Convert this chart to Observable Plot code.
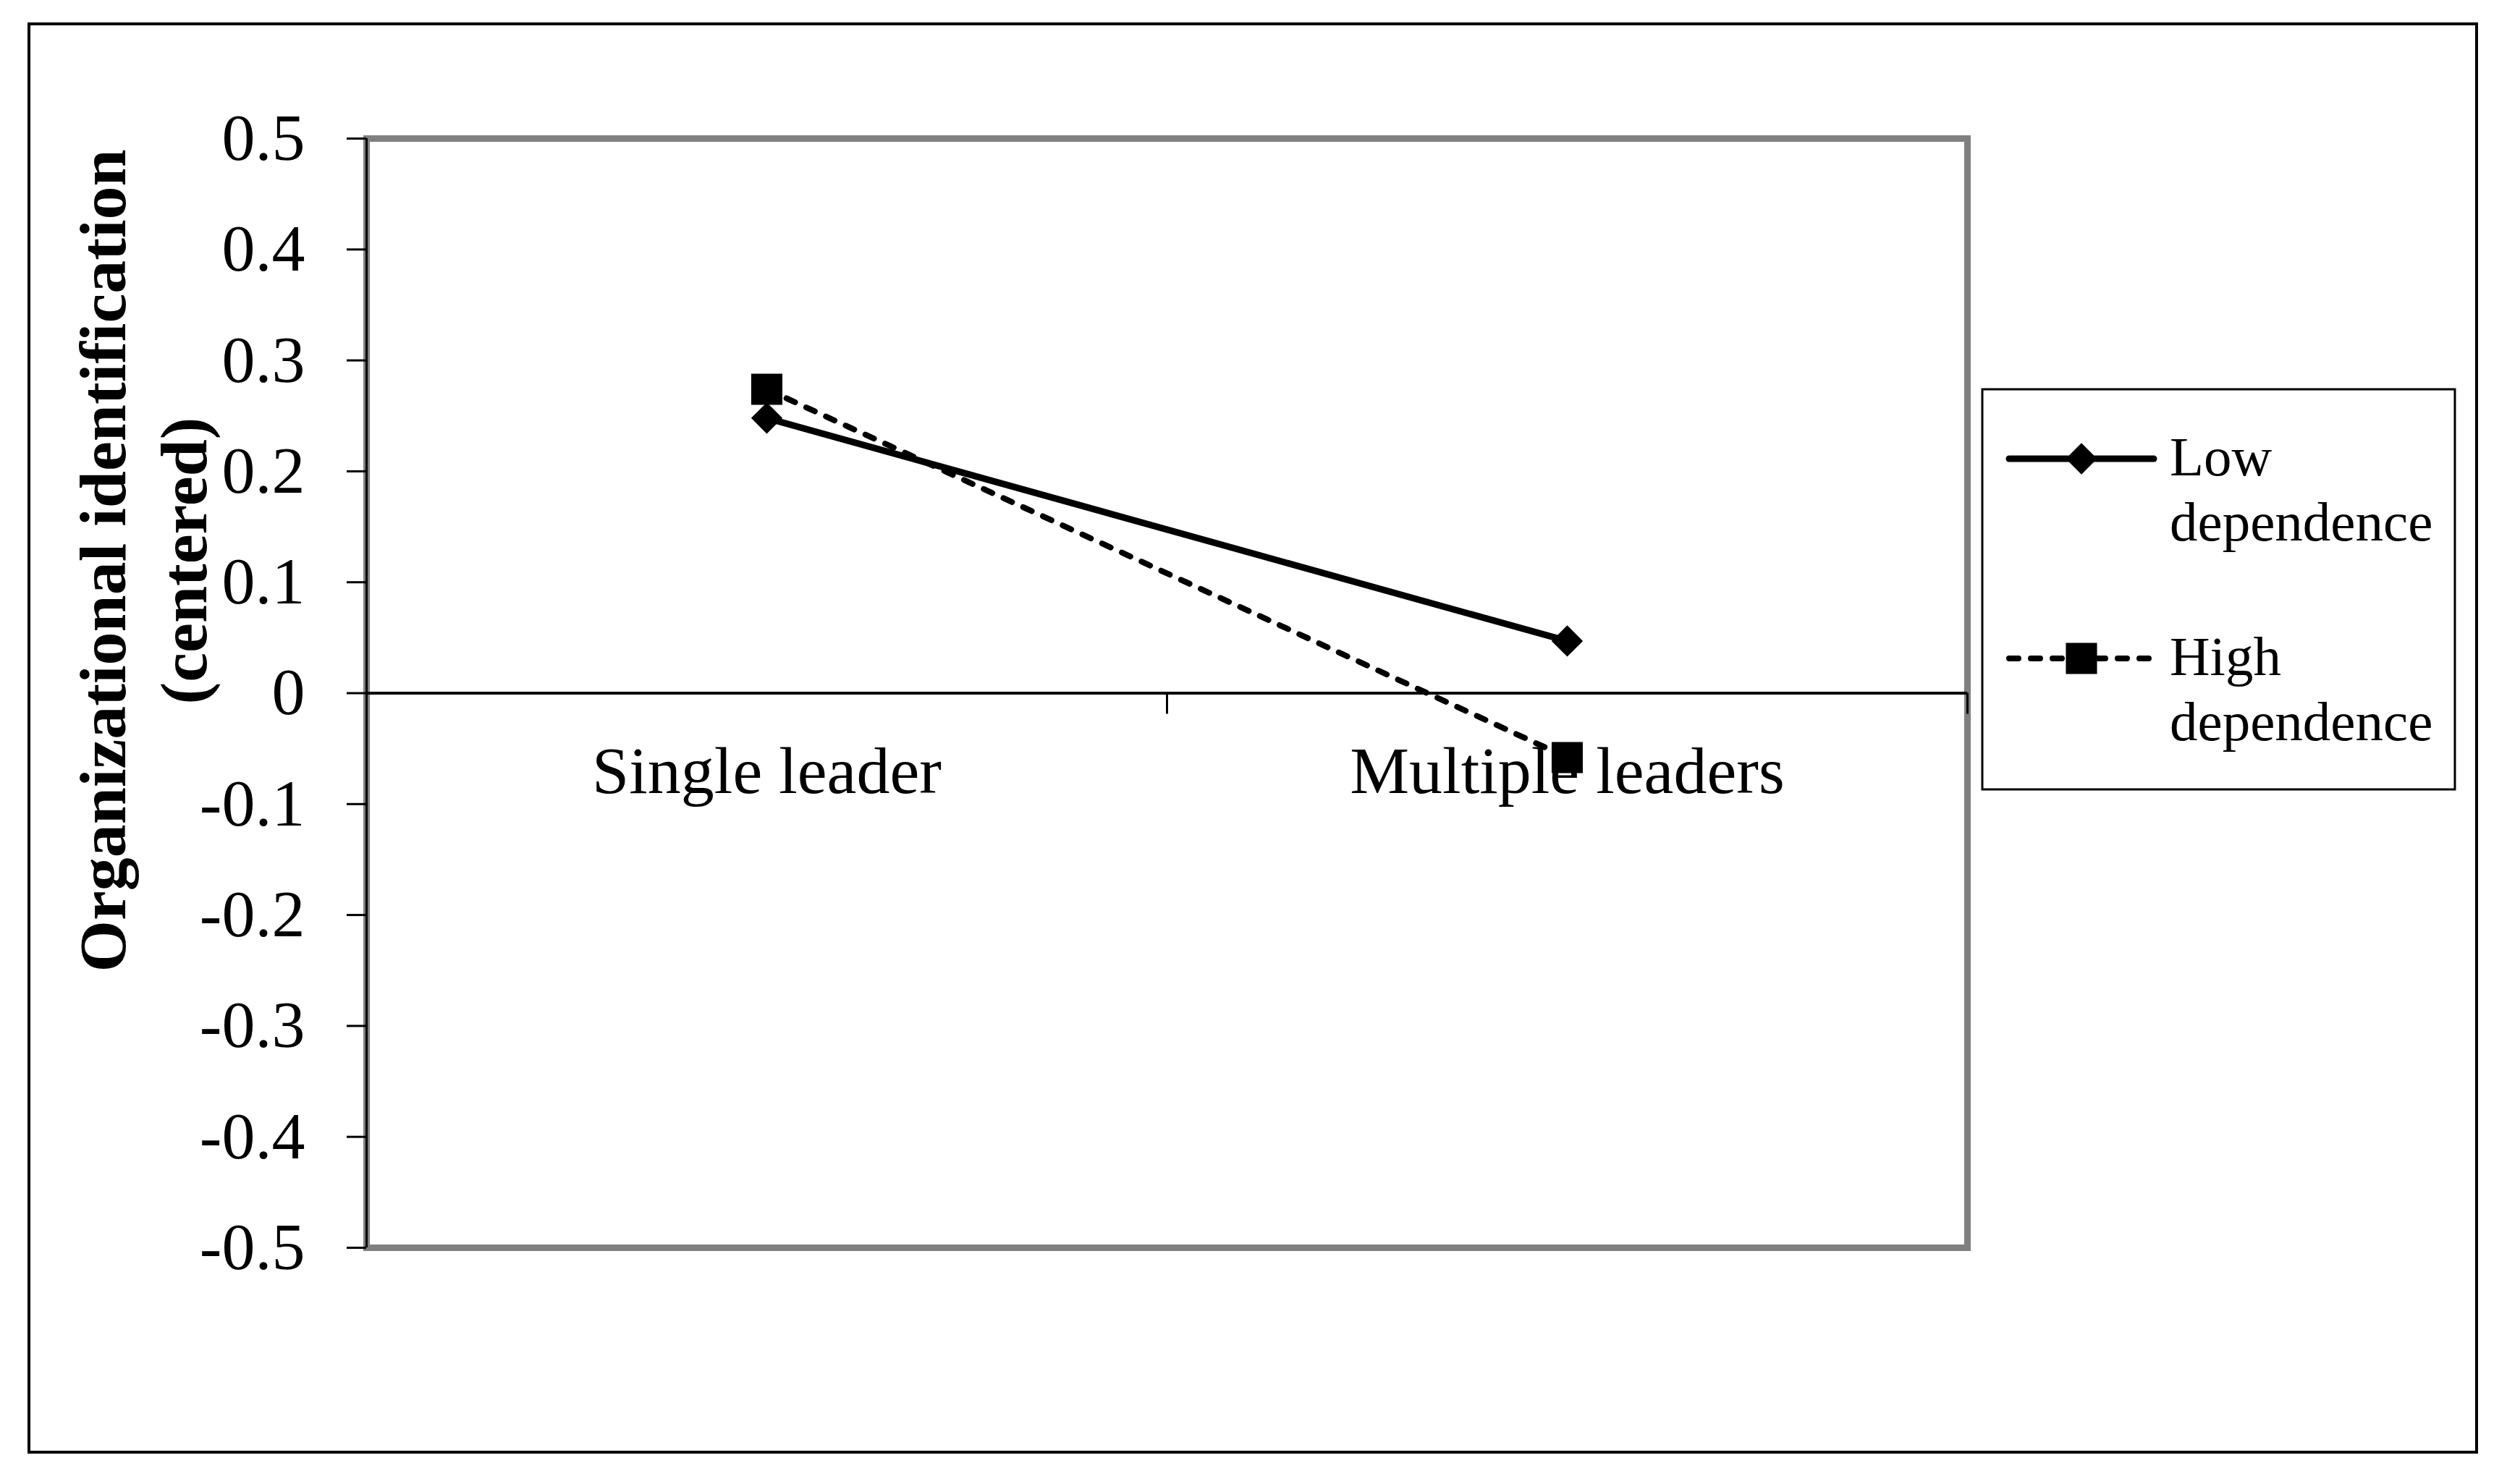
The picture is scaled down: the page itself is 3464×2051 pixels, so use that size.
<!DOCTYPE html>
<html>
<head>
<meta charset="utf-8">
<script src="https://cdn.jsdelivr.net/npm/d3@7"></script>
<script src="https://cdn.jsdelivr.net/npm/@observablehq/plot@0.6"></script>
<style>
  html, body { margin: 0; padding: 0; background: #fff; overflow: hidden; }
  #chart svg { display: block; }
</style>
</head>
<body>
<div id="chart"></div>
<script>
// ---- data ----
const categories = ["Single leader", "Multiple leaders"];
const seriesNames = ["Low dependence", "High dependence"];
const lowDependence = [0.248, 0.047];
const highDependence = [0.274, -0.058];
const yTicks = [-0.5, -0.4, -0.3, -0.2, -0.1, 0, 0.1, 0.2, 0.3, 0.4, 0.5];
const xBoundaries = [0, 1, 2];
const legendLines = [["Low", "dependence"], ["High", "dependence"]];

const rows = [];
categories.forEach((c, i) => {
  rows.push({series: seriesNames[0], category: c, pos: i + 0.5, value: lowDependence[i]});
  rows.push({series: seriesNames[1], category: c, pos: i + 0.5, value: highDependence[i]});
});
const lowRows = rows.filter(d => d.series === seriesNames[0]);
const highRows = rows.filter(d => d.series === seriesNames[1]);

const FONT = "'Liberation Serif', 'Times New Roman', Times, serif";

const svg = Plot.plot({
  width: 3464,
  height: 2051,
  marginLeft: 506,
  marginRight: 746,
  marginTop: 191,
  marginBottom: 327,
  x: {domain: [0, 2], axis: null},
  y: {domain: [-0.5, 0.5], axis: null},
  style: {fontFamily: FONT, fontSize: "92px", background: "#fff", color: "#000"},
  marks: [
    Plot.frame({stroke: "#808080", strokeWidth: 9}),
    Plot.axisY(yTicks, {
      tickSize: 27, tickPadding: 58, strokeWidth: 3, stroke: "#000",
      fill: "#000", fontSize: 92, label: null,
      tickFormat: d => d === 0 ? "0" : d.toFixed(1)
    }),
    Plot.ruleX([0], {stroke: "#000", strokeWidth: 3}),
    Plot.ruleY([0], {stroke: "#000", strokeWidth: 4}),
    Plot.ruleX(xBoundaries, {y1: 0, y2: 0, insetBottom: -29, stroke: "#000", strokeWidth: 3}),
    Plot.text(categories, {
      x: (d, i) => i + 0.5, y: 0, text: d => d, dy: 138,
      lineAnchor: "bottom", fontSize: 92, fill: "#000"
    }),
    Plot.line(lowRows, {x: "pos", y: "value", stroke: "#000", strokeWidth: 9, strokeLinecap: "round"}),
    Plot.line(highRows, {x: "pos", y: "value", stroke: "#000", strokeWidth: 8,
      strokeDasharray: "13,17", strokeLinecap: "round"}),
    Plot.dot(lowRows, {x: "pos", y: "value", symbol: "diamond2", r: 19.5, fill: "#000", stroke: "none"}),
    Plot.dot(highRows, {x: "pos", y: "value", symbol: "square", r: 24.3, fill: "#000", stroke: "none"})
  ]
});

const s = d3.select(svg);

// outer border of the figure
s.append("rect")
  .attr("x", 40).attr("y", 33).attr("width", 3382).attr("height", 1974)
  .attr("fill", "none").attr("stroke", "#000").attr("stroke-width", 4);

// y-axis title (two lines, bold, rotated)
const yt = s.append("text")
  .attr("transform", "translate(173,775) rotate(-90)")
  .attr("text-anchor", "middle")
  .attr("font-family", FONT)
  .attr("font-weight", "bold")
  .attr("font-size", 92)
  .attr("fill", "#000");
yt.append("tspan").attr("x", 0).attr("y", 0).text("Organizational identification");
yt.append("tspan").attr("x", 0).attr("y", 112).text("(centered)");

// legend
const lg = s.append("g");
lg.append("rect")
  .attr("x", 2739).attr("y", 538).attr("width", 653).attr("height", 553)
  .attr("fill", "#fff").attr("stroke", "#000").attr("stroke-width", 3);
const legendY = [634, 910];
const symbolTypes = [d3.symbolDiamond2, d3.symbolSquare];
const symbolSizes = [Math.PI * 19.5 * 19.5, Math.PI * 24.3 * 24.3];
seriesNames.forEach((name, k) => {
  const y = legendY[k];
  lg.append("line")
    .attr("x1", 2776).attr("x2", 2976).attr("y1", y).attr("y2", y)
    .attr("stroke", "#000").attr("stroke-width", k === 0 ? 9 : 8)
    .attr("stroke-linecap", "round")
    .attr("stroke-dasharray", k === 0 ? null : "13,17");
  lg.append("path")
    .attr("transform", `translate(2876,${y})`)
    .attr("d", d3.symbol(symbolTypes[k], symbolSizes[k])())
    .attr("fill", "#000");
  const t = lg.append("text")
    .attr("text-anchor", "start")
    .attr("font-family", FONT).attr("font-size", 77).attr("fill", "#000");
  t.append("tspan").attr("x", 2998).attr("y", y + 23).text(legendLines[k][0]);
  t.append("tspan").attr("x", 2998).attr("y", y + 113).text(legendLines[k][1]);
});

document.getElementById("chart").appendChild(svg);
</script>
</body>
</html>
